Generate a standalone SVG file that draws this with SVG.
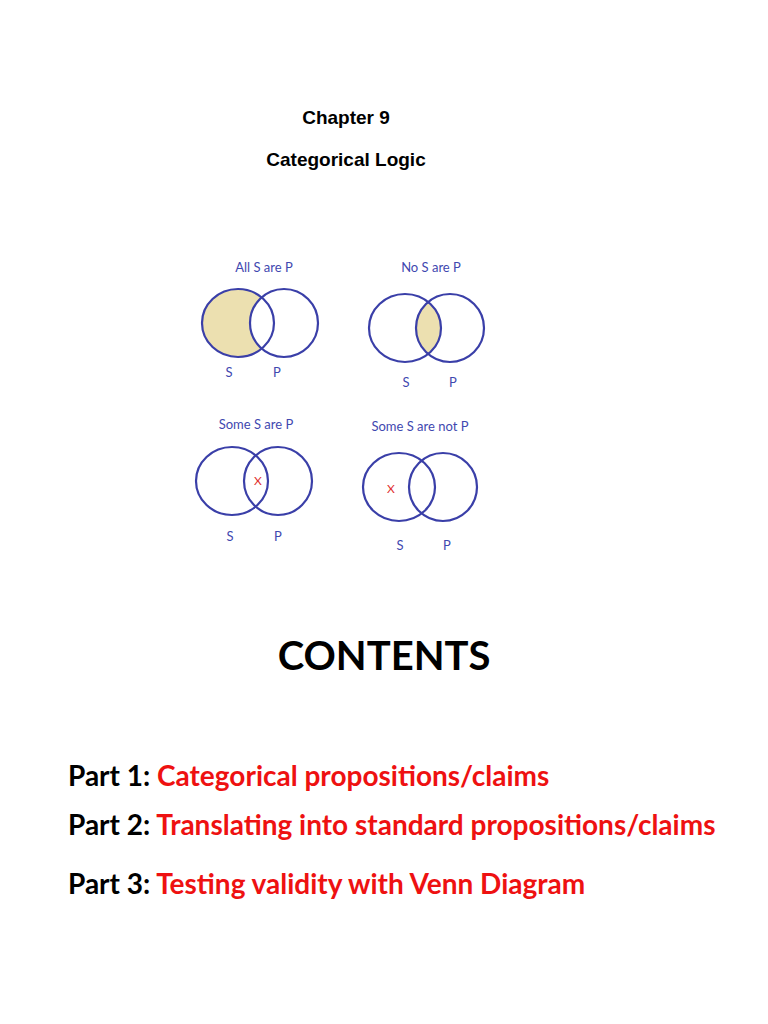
<svg xmlns="http://www.w3.org/2000/svg" width="768" height="1024" viewBox="0 0 768 1024">
<style>
.h{font-family:"Liberation Sans",Arial,sans-serif;font-weight:bold;font-size:19px;text-anchor:middle;fill:#000}
.v{font-family:Lato,"Open Sans",sans-serif;font-size:13px;fill:#3f48b0;text-anchor:middle}
.c{fill:none;stroke:#3a3fa8;stroke-width:2.2}
.x{font-family:Lato,sans-serif;font-size:12px;fill:#e03030;text-anchor:middle}
.p{font-family:Lato,"Open Sans",sans-serif;font-weight:bold;font-size:28px}
.r{fill:#ee1111}
</style>
<rect width="768" height="1024" fill="#fff"/>
<text class="h" x="346" y="124">Chapter 9</text>
<text class="h" x="346" y="166">Categorical Logic</text>
<g id="d1">
<ellipse cx="238" cy="323" rx="36" ry="34" fill="#ece0b0"/>
<circle cx="284" cy="323" r="34" fill="#fff"/>
<text class="v" x="264" y="272">All S are P</text>
<ellipse class="c" cx="238" cy="323" rx="36" ry="34"/>
<circle class="c" cx="284" cy="323" r="34"/>
<text class="v" x="229" y="377">S</text><text class="v" x="277" y="377">P</text>
</g>
<g id="d2">
<defs><clipPath id="cp2"><ellipse cx="405" cy="328" rx="36" ry="34"/></clipPath></defs>
<circle cx="450" cy="328" r="34" fill="#ece0b0" clip-path="url(#cp2)"/>
<text class="v" x="431" y="272">No S are P</text>
<ellipse class="c" cx="405" cy="328" rx="36" ry="34"/>
<circle class="c" cx="450" cy="328" r="34"/>
<text class="v" x="406" y="387">S</text><text class="v" x="453" y="387">P</text>
</g>
<g id="d3">
<text class="v" x="256" y="429">Some S are P</text>
<ellipse class="c" cx="232" cy="481" rx="36" ry="34"/>
<circle class="c" cx="278" cy="481" r="34"/>
<text class="x" x="258" y="485">X</text>
<text class="v" x="230" y="541">S</text><text class="v" x="278" y="541">P</text>
</g>
<g id="d4">
<text class="v" x="420" y="431">Some S are not P</text>
<ellipse class="c" cx="399" cy="487" rx="36" ry="34"/>
<circle class="c" cx="443" cy="487" r="34"/>
<text class="x" x="391" y="493">X</text>
<text class="v" x="400" y="550">S</text><text class="v" x="447" y="550">P</text>
</g>
<text x="384" y="670" font-family="Lato,'Open Sans',sans-serif" font-weight="bold" font-size="40" text-anchor="middle">CONTENTS</text>
<text class="p" x="68" y="786">Part 1: <tspan class="r">Categorical propositions/claims</tspan></text>
<text class="p" x="68" y="835">Part 2: <tspan class="r">Translating into standard propositions/claims</tspan></text>
<text class="p" x="68" y="894">Part 3: <tspan class="r">Testing validity with Venn Diagram</tspan></text>
</svg>
